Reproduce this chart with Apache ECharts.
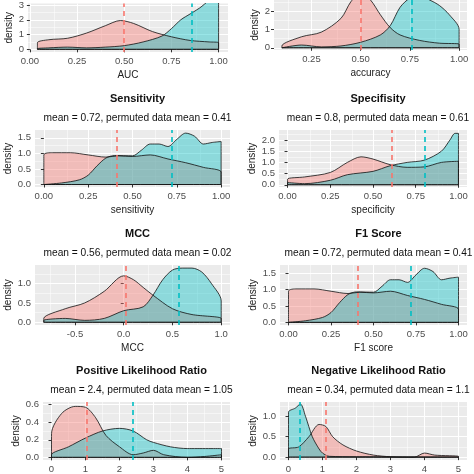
<!DOCTYPE html>
<html><head><meta charset="utf-8">
<script src="https://cdn.jsdelivr.net/npm/echarts@6/dist/echarts.min.js"></script>
<style>html,body{margin:0;padding:0;background:#fff}#c{width:474px;height:474px}</style>
</head><body><div id="c"></div>
<script>
// ---- data ----
const aucX  = [0.04,0.1,0.2,0.3,0.4,0.48,0.55,0.65,0.75,0.85,0.95,1.0];
const aucPerm = [0.45,0.65,0.75,1.1,1.6,1.95,1.75,1.2,0.85,0.6,0.5,0.45];
const aucX2 = [0.04,0.1,0.2,0.3,0.4,0.5,0.6,0.7,0.75,0.8,0.85,0.9,0.95,1.0];
const aucReal = [0.05,0.1,0.15,0.1,0.15,0.25,0.5,0.9,1.4,2.0,2.4,2.8,3.3,3.6];
const accX = [0.1,0.2,0.3,0.4,0.45,0.5,0.55,0.6,0.65,0.7,0.8,0.9,1.0];
const accPerm = [0.1,0.6,0.85,1.6,2.5,3.0,2.6,1.8,1.1,0.7,0.4,0.25,0.2];
const accX2 = [0.1,0.2,0.3,0.4,0.5,0.6,0.65,0.7,0.75,0.8,0.85,0.9,0.95,1.0];
const accReal = [0.02,0.15,0.05,0.1,0.3,0.7,1.2,2.2,2.7,2.8,2.6,2.3,1.8,1.0];
const senX = [0,0.05,0.15,0.25,0.35,0.42,0.5,0.6,0.7,0.8,0.9,1.0];
const senPerm = [0.95,1.02,1.02,0.95,0.88,0.92,0.9,0.95,0.82,0.7,0.55,0.4];
const senX2 = [0,0.1,0.2,0.25,0.3,0.35,0.4,0.5,0.55,0.6,0.65,0.7,0.75,0.8,0.85,0.9,0.95,1.0];
const senReal = [0,0.05,0.15,0.3,0.6,0.85,0.93,0.92,1.1,1.3,1.3,1.22,1.45,1.65,1.55,1.3,1.35,1.38];
const speX = [0,0.1,0.25,0.35,0.43,0.5,0.6,0.7,0.8,0.9,1.0];
const spePerm = [0.25,0.35,0.55,1.0,1.25,1.15,0.9,0.78,0.8,1.0,1.05];
const speX2 = [0,0.1,0.25,0.35,0.5,0.6,0.7,0.8,0.9,0.95,0.98,1.0];
const speReal = [0.1,0.05,0.2,0.45,0.6,0.85,1.0,1.1,1.5,2.0,2.3,2.3];
const mccX = [-0.82,-0.6,-0.4,-0.2,0,0.1,0.2,0.3,0.5,0.7,1.0];
const mccPerm = [0.1,0.35,0.5,0.8,1.2,1.1,0.9,0.7,0.35,0.2,0.1];
const mccX2 = [-0.82,-0.6,-0.4,-0.2,0,0.2,0.3,0.4,0.5,0.6,0.7,0.8,0.9,1.0];
const mccReal = [0.05,0.1,0.05,0.1,0.3,0.4,0.7,1.1,1.35,1.4,1.4,1.3,1.0,0.55];
const f1X = [0,0.05,0.15,0.25,0.35,0.42,0.5,0.6,0.7,0.8,0.9,1.0];
const f1Perm = [0.95,1.02,1.02,0.95,0.88,0.92,0.9,0.95,0.82,0.7,0.55,0.4];
const f1X2 = [0,0.1,0.2,0.25,0.3,0.35,0.4,0.5,0.55,0.6,0.65,0.7,0.75,0.8,0.85,0.9,0.95,1.0];
const f1Real = [0,0.05,0.15,0.3,0.6,0.85,0.93,0.92,1.1,1.3,1.3,1.22,1.45,1.65,1.55,1.3,1.35,1.38];
const plrX = [0,0.001,0.3,0.7,1.0,1.3,1.6,2.0,2.4,2.7,3.0,3.3,4.0,4.5,5.0];
const plrPerm = [0,0.27,0.5,0.58,0.57,0.45,0.25,0.12,0.03,0.05,0.08,0.03,0.0,0.01,0.03];
const plrX2 = [0,0.5,1,1.5,2,2.4,2.8,3,3.5,4,5];
const plrReal = [0.03,0.12,0.22,0.3,0.33,0.3,0.2,0.17,0.12,0.1,0.1];
const nlrX = [0,0.3,0.6,0.9,1.1,1.3,1.6,2,2.5,3,3.7,4,4.3,5];
const nlrPerm = [0.2,0.25,0.5,0.8,0.75,0.5,0.3,0.15,0.05,0.01,0.0,0.1,0.05,0.02];
const nlrX2 = [0,0.2,0.35,0.5,0.7,0.9,1.0,1.2,2,5];
const nlrReal = [1.1,1.2,1.3,1.0,0.5,0.2,0.1,0.02,0.01,0];
const unitTicks = [0,0.25,0.5,0.75,1];
const mccTicks = [-0.5,0,0.5,1];
const lrTicks = [0,1,2,3,4,5];

const panels = [
 {title:'',sub:'',xname:'AUC',l:28,r:228,t:-2,h:54,xmin:-0.01,xmax:1.05,ymin:-0.18,ymax:3.1,xt:unitTicks,xd:2,yt:[0,1,2,3],yd:0,
  px:aucX,py:aucPerm,rx:aucX2,ry:aucReal,pm:0.5,rm:0.86},
 {title:'',sub:'',xname:'accuracy',l:274,r:467,t:-2,h:52,xmin:0.06,xmax:1.04,ymin:-0.12,ymax:2.6,xt:[0.25,0.5,0.75,1],xd:2,yt:[0,1,2],yd:0,
  px:accX,py:accPerm,rx:accX2,ry:accReal,pm:0.5,rm:0.76},
 {title:'Sensitivity',sub:'mean = 0.72, permuted data mean = 0.41',xname:'sensitivity',l:35,r:230,t:130,h:57,xmin:-0.05,xmax:1.05,ymin:-0.08,ymax:1.75,xt:unitTicks,xd:2,yt:[0,0.5,1,1.5],yd:1,
  px:senX,py:senPerm,rx:senX2,ry:senReal,pm:0.41,rm:0.72},
 {title:'Specifisity',sub:'mean = 0.8, permuted data mean = 0.61',xname:'specificity',l:279,r:467,t:130,h:57,xmin:-0.05,xmax:1.05,ymin:-0.1,ymax:2.45,xt:unitTicks,xd:2,yt:[0,0.5,1,1.5,2],yd:1,
  px:speX,py:spePerm,rx:speX2,ry:speReal,pm:0.61,rm:0.8},
 {title:'MCC',sub:'mean = 0.56, permuted data mean = 0.02',xname:'MCC',l:35,r:230,t:265,h:60,xmin:-0.91,xmax:1.09,ymin:-0.07,ymax:1.48,xt:mccTicks,xd:1,yt:[0,0.5,1],yd:1,
  px:mccX,py:mccPerm,rx:mccX2,ry:mccReal,pm:0.02,rm:0.56},
 {title:'F1 Score',sub:'mean = 0.72, permuted data mean = 0.41',xname:'F1 score',l:280,r:467,t:265,h:60,xmin:-0.05,xmax:1.05,ymin:-0.08,ymax:1.75,xt:unitTicks,xd:2,yt:[0,0.5,1,1.5],yd:1,
  px:f1X,py:f1Perm,rx:f1X2,ry:f1Real,pm:0.41,rm:0.72},
 {title:'Positive Likelihood Ratio',sub:'mean = 2.4, permuted data mean = 1.05',xname:'',l:43,r:230,t:402,h:60,xmin:-0.25,xmax:5.25,ymin:-0.03,ymax:0.63,xt:lrTicks,xd:0,yt:[0,0.2,0.4,0.6],yd:1,
  px:plrX,py:plrPerm,rx:plrX2,ry:plrReal,pm:1.05,rm:2.4},
 {title:'Negative Likelihood Ratio',sub:'mean = 0.34, permuted data mean = 1.1',xname:'',l:280,r:467,t:402,h:60,xmin:-0.25,xmax:5.25,ymin:-0.07,ymax:1.35,xt:lrTicks,xd:0,yt:[0,0.5,1],yd:1,
  px:nlrX,py:nlrPerm,rx:nlrX2,ry:nlrReal,pm:1.1,rm:0.34}
];

const RED='#F8766D', CY='#00BFC4';
const grid=[],xAxis=[],yAxis=[],series=[],title=[];
function mids(t){const m=[];for(let i=0;i<t.length-1;i++)m.push((t[i]+t[i+1])/2);return m;}
panels.forEach((p,i)=>{
  grid.push({left:p.l,top:p.t,width:p.r-p.l,height:p.h,show:true,backgroundColor:'#EBEBEB',borderWidth:0});
  const lab={color:'#4D4D4D',fontSize:9.5,fontFamily:'Liberation Sans, Arial'};
  xAxis.push({type:'value',gridIndex:i,min:p.xmin,max:p.xmax,splitLine:{show:false},axisLine:{show:false},
    axisTick:{show:true,customValues:p.xt,length:3,lineStyle:{color:'#333'}},
    axisLabel:Object.assign({customValues:p.xt,margin:4,formatter:v=>v.toFixed(p.xd)},lab),
    name:p.xname,nameLocation:'middle',nameGap:18,nameTextStyle:{color:'#222',fontSize:10,fontFamily:'Liberation Sans, Arial'}});
  yAxis.push({type:'value',gridIndex:i,min:p.ymin,max:p.ymax,splitLine:{show:false},axisLine:{show:false},
    axisTick:{show:true,customValues:p.yt,length:3,lineStyle:{color:'#333'}},
    axisLabel:Object.assign({customValues:p.yt,margin:4,formatter:v=>v.toFixed(p.yd)},lab),
    name:'density',nameLocation:'middle',nameRotate:90,nameGap:p.yd?22:14,nameTextStyle:{color:'#222',fontSize:10,fontFamily:'Liberation Sans, Arial'}});
  const gl=[];
  p.xt.forEach(v=>gl.push({xAxis:v,lineStyle:{color:'#fff',width:1.1,type:'solid'}}));
  mids(p.xt).concat([p.xt[0]-(p.xt[1]-p.xt[0])/2,p.xt[p.xt.length-1]+(p.xt[1]-p.xt[0])/2]).filter(v=>v>p.xmin&&v<p.xmax)
    .forEach(v=>gl.push({xAxis:v,lineStyle:{color:'#fff',width:0.5,type:'solid'}}));
  p.yt.forEach(v=>gl.push({yAxis:v,lineStyle:{color:'#fff',width:1.1,type:'solid'}}));
  mids(p.yt).concat([p.yt[p.yt.length-1]+(p.yt[1]-p.yt[0])/2]).filter(v=>v>p.ymin&&v<p.ymax)
    .forEach(v=>gl.push({yAxis:v,lineStyle:{color:'#fff',width:0.5,type:'solid'}}));
  series.push({type:'line',xAxisIndex:i,yAxisIndex:i,data:[],silent:true,z:0,zlevel:0,
    markLine:{silent:true,symbol:'none',label:{show:false},animation:false,data:gl,z:0}});
  const mk=(xs,ys,col)=>({type:'line',xAxisIndex:i,yAxisIndex:i,smooth:0.3,symbol:'none',z:5,
    data:[[xs[0],0]].concat(xs.map((x,k)=>[x,ys[k]])).concat([[xs[xs.length-1],0],[xs[0],0]]),
    lineStyle:{color:'#111',width:0.8},areaStyle:{color:col,opacity:0.4,origin:0},animation:false});
  series.push(mk(p.px,p.py,RED));
  series.push(mk(p.rx,p.ry,CY));
  series.push({type:'line',xAxisIndex:i,yAxisIndex:i,data:[],z:8,
    markLine:{silent:true,symbol:'none',label:{show:false},animation:false,z:8,data:[
      {xAxis:p.pm,lineStyle:{color:RED,width:1.6,type:[5,4]}},
      {xAxis:p.rm,lineStyle:{color:CY,width:1.6,type:[5,4]}}]}});
  const cx=(p.l+p.r)/2;
  if(p.title){
    title.push({text:p.title,left:cx,top:p.t-42,textAlign:'center',textStyle:{fontSize:11,fontWeight:'bold',color:'#111',fontFamily:'Liberation Sans, Arial'}});
    title.push({text:p.sub,left:cx,top:p.t-22,textAlign:'center',textStyle:{fontSize:10.2,fontWeight:'normal',color:'#111',fontFamily:'Liberation Sans, Arial'}});
  }
});
const chart=echarts.init(document.getElementById('c'),null,{renderer:'canvas'});
chart.setOption({animation:false,title,grid,xAxis,yAxis,series});
</script></body></html>
